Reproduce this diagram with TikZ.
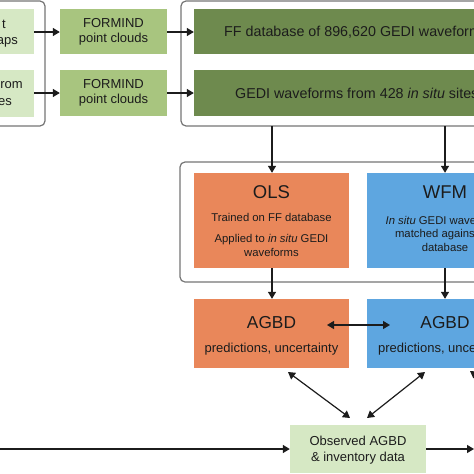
\documentclass[tikz,border=0pt]{standalone}
\usepackage{fontspec}
\setmainfont{Liberation Sans}
\usetikzlibrary{arrows.meta}
\definecolor{lgreen}{RGB}{214,232,196}
\definecolor{mgreen}{RGB}{168,197,127}
\definecolor{dgreen}{RGB}{110,138,78}
\definecolor{orng}{RGB}{233,135,90}
\definecolor{blu}{RGB}{94,166,224}
\definecolor{framegray}{RGB}{118,118,118}
\definecolor{ink}{RGB}{28,28,28}
\tikzset{
  box/.style={draw=none, inner sep=0pt, anchor=center},
  frm/.style={draw=framegray, line width=1.2pt, rounded corners=5pt},
  arr/.style={draw=ink, line width=1.3pt, -{Triangle[length=7pt,width=8pt]}},
  darr/.style={draw=ink, line width=1.2pt, {Triangle[length=7pt,width=8pt]}-{Triangle[length=7pt,width=8pt]}},
  txt/.style={text=ink, inner sep=0pt, font=\fontsize{13}{15}\selectfont},
  small/.style={text=ink, inner sep=0pt, font=\fontsize{11.3}{13.5}\selectfont, align=center},
  ttl/.style={text=ink, inner sep=0pt, font=\fontsize{18.5}{20}\selectfont},
}
\begin{document}
\begin{tikzpicture}[x=1pt,y=-1pt]
\clip (0,0) rectangle (474,474);
\fill[white] (0,0) rectangle (474,474);
% frames
\draw[frm] (-100,1) rectangle (45,126);
\draw[frm] (181,1) rectangle (600,126);
\draw[frm] (180,162) rectangle (600,282);
% left boxes
\node[box, fill=lgreen, minimum width=94pt, minimum height=45pt] (in1) at (-13,31.5) {};
\node[box, fill=lgreen, minimum width=94pt, minimum height=47pt] (in2) at (-13,93.5) {};
\node[txt, anchor=east] (in1a) at (6,24) {t};
\node[txt, anchor=east] (in1b) at (18,42) {aps};
\node[txt, anchor=east] (in2a) at (23,85) {rom};
\node[txt, anchor=east] (in2b) at (12,102) {es};
% FORMIND boxes
\node[box, fill=mgreen, minimum width=107pt, minimum height=45pt] (fm1) at (113.5,31.5) {};
\node[box, fill=mgreen, minimum width=107pt, minimum height=46pt] (fm2) at (113.5,93) {};
\node[txt, align=center] (fm1t) at (113.5,31.5) {FORMIND\\point clouds};
\node[txt, align=center] (fm2t) at (113.5,93) {FORMIND\\point clouds};
% dark green boxes
\node[box, fill=dgreen, minimum width=406pt, minimum height=45pt] (db1) at (397,31.5) {};
\node[box, fill=dgreen, minimum width=406pt, minimum height=46pt] (db2) at (397,93) {};
\node[txt, anchor=west, font=\fontsize{14.3}{16}\selectfont] (db1t) at (224,32) {FF database of 896,620 GEDI waveforms};
\node[txt, anchor=west, font=\fontsize{14.3}{16}\selectfont] (db2t) at (235,93) {GEDI waveforms from 428 \textit{in situ} sites};
% methods
\node[box, fill=orng, minimum width=155pt, minimum height=95pt] (ols) at (271.5,220.5) {};
\node[box, fill=blu, minimum width=156pt, minimum height=95pt] (wfm) at (445,220.5) {};
\node[ttl] (olst) at (271.5,192) {OLS};
\node[ttl] (wfmt) at (445,192) {WFM};
\node[small] (ols1) at (271.5,217) {Trained on FF database};
\node[small] (ols2) at (271.5,245.5) {Applied to \textit{in situ} GEDI\\waveforms};
\node[small] (wfm1) at (445,233.5) {\textit{In situ} GEDI waveforms\\matched against FF\\database};
% AGBD boxes
\node[box, fill=orng, minimum width=155pt, minimum height=69pt] (ag1) at (271.5,333.5) {};
\node[box, fill=blu, minimum width=156pt, minimum height=69pt] (ag2) at (445,333.5) {};
\node[txt, font=\fontsize{17.3}{19}\selectfont] (ag1t) at (271.5,323) {AGBD};
\node[txt, font=\fontsize{17.3}{19}\selectfont] (ag2t) at (445,323) {AGBD};
\node[txt] (ag1s) at (271.5,349) {predictions, uncertainty};
\node[txt] (ag2s) at (445,349) {predictions, uncertainty};
% observed
\node[box, fill=lgreen, minimum width=136pt, minimum height=48pt] (obs) at (358,449) {};
\node[txt, align=center, font=\fontsize{13}{16}\selectfont] (obst) at (358,450) {Observed AGBD\\\& inventory data};
% coordinates
\coordinate (f1) at (272,126);
\coordinate (f2) at (445,126);
\coordinate (lft) at (-5,449);
\coordinate (rgt) at (474,449);
\coordinate (c1) at (327,325);
\coordinate (c2) at (390,325);
\coordinate (d1) at (288,372);
\coordinate (d2) at (350,418);
\coordinate (e1) at (425,372);
\coordinate (e2) at (367,418);
\coordinate (g1) at (470,371);
\coordinate (g2) at (500,392);
% connectors
\draw[arr] (in1.east |- 0,32) -- (fm1.west |- 0,32);
\draw[arr] (in2.east |- 0,93) -- (fm2.west |- 0,93);
\draw[arr] (fm1.east |- 0,32) -- (db1.west |- 0,32);
\draw[arr] (fm2.east |- 0,93) -- (db2.west |- 0,93);
\draw[arr] (f1) -- (ols.north -| f1);
\draw[arr] (f2) -- (wfm.north -| f2);
\draw[arr] (ols.south -| f1) -- (ag1.north -| f1);
\draw[arr] (wfm.south -| f2) -- (ag2.north -| f2);
\draw[darr] (c1) -- (c2);
\draw[darr] (d1) -- (d2);
\draw[darr] (e1) -- (e2);
\draw[darr] (g1) -- (g2);
\draw[arr] (lft) -- (obs.west);
\draw[arr] (obs.east) -- (rgt);
\end{tikzpicture}
\end{document}
